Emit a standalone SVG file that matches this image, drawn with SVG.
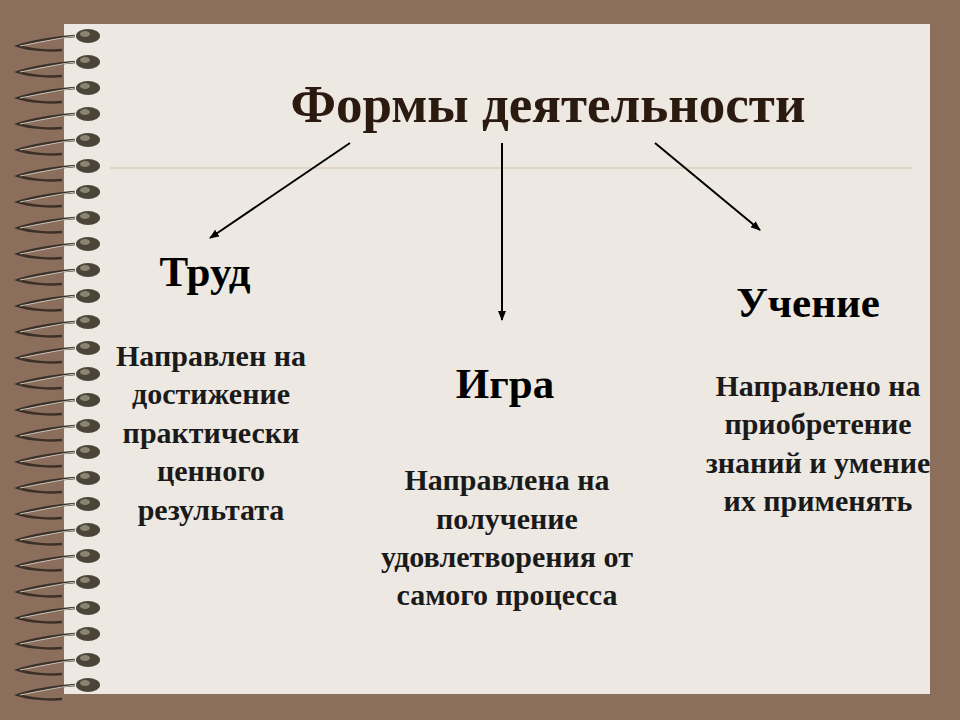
<svg xmlns="http://www.w3.org/2000/svg" width="960" height="720" viewBox="0 0 960 720">
<defs>
<style>
.t{font-family:"Liberation Serif",serif;font-weight:bold;fill:#000;text-anchor:middle}
.h{font-size:43px}
.d{font-size:30px;fill:#1a1a1a}
.c{stroke:#000;stroke-width:2;fill:none;marker-end:url(#a)}
</style>
<marker id="a" markerWidth="10" markerHeight="8" refX="9" refY="4" orient="auto" markerUnits="userSpaceOnUse"><path d="M0,0L10,4L0,8z" fill="#000"/></marker>
<g id="ring">
<path d="M75,0 C50,2 30,6 18,10 C30,14 50,15 62,14" stroke="#3a3028" stroke-width="2.5" fill="none"/>
<path d="M75,0 C55,3 35,7 20,10" stroke="#c8c4bc" stroke-width="1" fill="none"/>
<ellipse cx="88" cy="0" rx="12" ry="7" fill="#4a4538"/>
<ellipse cx="85" cy="-2" rx="5" ry="3" fill="#8a8470"/>
</g>
</defs>
<rect width="960" height="720" fill="#8c6e5c"/>
<rect x="64" y="24" width="866" height="670" fill="#ede8e2"/>
<line x1="110" y1="168" x2="912" y2="168" stroke="#d4c4a8" stroke-width="1"/>
<g id="spiral">
<use href="#ring" y="36"/><use href="#ring" y="62"/><use href="#ring" y="88"/><use href="#ring" y="114"/><use href="#ring" y="140"/><use href="#ring" y="166"/><use href="#ring" y="192"/><use href="#ring" y="218"/><use href="#ring" y="244"/><use href="#ring" y="270"/><use href="#ring" y="296"/><use href="#ring" y="322"/><use href="#ring" y="348"/><use href="#ring" y="374"/><use href="#ring" y="400"/><use href="#ring" y="426"/><use href="#ring" y="452"/><use href="#ring" y="478"/><use href="#ring" y="504"/><use href="#ring" y="530"/><use href="#ring" y="556"/><use href="#ring" y="582"/><use href="#ring" y="608"/><use href="#ring" y="634"/><use href="#ring" y="660"/><use href="#ring" y="685"/>
</g>
<g id="title"><text class="t" x="548" y="122" style="font-size:53px;fill:#2a1a10">Формы деятельности</text></g>
<g id="connectors">
<line class="c" x1="350" y1="143" x2="210" y2="238"/>
<line class="c" x1="502" y1="143" x2="502" y2="320"/>
<line class="c" x1="655" y1="143" x2="760" y2="230"/>
</g>
<g id="trud"><text class="t h" x="205" y="286">Труд</text>
<text class="t d" x="211" y="366">Направлен на</text><text class="t d" x="211" y="404">достижение</text><text class="t d" x="211" y="443">практически</text><text class="t d" x="211" y="481">ценного</text><text class="t d" x="211" y="520">результата</text></g>
<g id="igra"><text class="t h" x="505" y="398">Игра</text>
<text class="t d" x="507" y="490">Направлена на</text><text class="t d" x="507" y="529">получение</text><text class="t d" x="507" y="567">удовлетворения от</text><text class="t d" x="507" y="605">самого процесса</text></g>
<g id="uchenie"><text class="t h" x="808" y="317">Учение</text>
<text class="t d" x="818" y="396">Направлено на</text><text class="t d" x="818" y="434">приобретение</text><text class="t d" x="818" y="473">знаний и умение</text><text class="t d" x="818" y="511">их применять</text></g>
</svg>
